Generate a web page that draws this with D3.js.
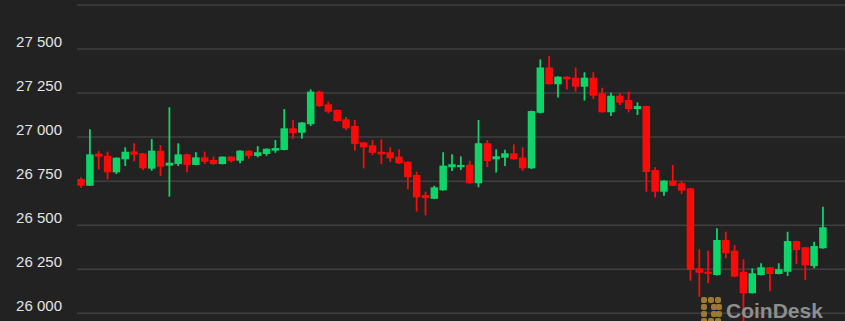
<!DOCTYPE html>
<html lang="en">
<head>
    <meta charset="UTF-8">
    <title>BTC candles</title>
    <style>
        body {
            margin: 0;
            padding: 0;
            background-color: #222222;
            overflow: hidden;
        }
        .tick-label {
            font-family: 'Liberation Sans', Arial, sans-serif;
            font-size: 15px;
            fill: #e4e4e4;
        }
        .grid {
            stroke: #3f3f3f;
            stroke-width: 1.5px;
        }
        .brand {
            font-family: 'Liberation Sans', Arial, sans-serif;
            font-weight: bold;
            font-size: 21px;
            fill: #8e8e8e;
        }
    </style>
</head>
<body>
    <script src="https://d3js.org/d3.v7.min.js"></script>
    <script>
        // OHLC per candle
        const opens = [
            26762, 26724, 26906, 26894, 26800, 26874, 26919, 26908, 26821, 26923,
            26838, 26847, 26902, 26842, 26885, 26870, 26847, 26889, 26866, 26923,
            26893, 26904, 26923, 26927, 27050, 27025, 27073, 27258, 27186, 27154,
            27101, 27063, 26970, 26953, 26917, 26914, 26889, 26860, 26785, 26671,
            26650, 26698, 26829, 26829, 26843, 26738, 26965, 26874, 26883, 26908,
            26884, 26823, 27138, 27395, 27300, 27343, 27337, 27286, 27337, 27249,
            27141, 27235, 27211, 27159, 27176, 26813, 26690, 26753, 26738, 26709,
            26255, 26236, 26217, 26416, 26355, 26236, 26114, 26217, 26261, 26223,
            26236, 26410, 26375, 26268, 26369
        ];
        const highs = [
            26772, 27044, 26921, 26917, 26885, 26942, 26965, 26910, 26989, 26955,
            27169, 26965, 26905, 26914, 26917, 26889, 26891, 26891, 26925, 26925,
            26949, 26936, 26983, 27159, 27097, 27085, 27271, 27263, 27201, 27156,
            27114, 27097, 26972, 26983, 26987, 26942, 26931, 26862, 26804, 26690,
            26724, 26914, 26902, 26891, 26866, 27097, 26983, 26931, 26928, 26959,
            26942, 27150, 27441, 27460, 27345, 27345, 27394, 27368, 27368, 27280,
            27252, 27249, 27258, 27197, 27178, 26829, 26755, 26842, 26753, 26711,
            26363, 26355, 26482, 26463, 26388, 26307, 26255, 26284, 26263, 26284,
            26463, 26412, 26377, 26406, 26605
        ];
        const lows = [
            26713, 26722, 26817, 26760, 26790, 26836, 26863, 26813, 26809, 26779,
            26662, 26836, 26800, 26840, 26847, 26843, 26845, 26857, 26851, 26877,
            26885, 26893, 26911, 26925, 26991, 26991, 27063, 27171, 27135, 27086,
            27040, 26923, 26823, 26898, 26847, 26860, 26847, 26704, 26577, 26556,
            26648, 26696, 26808, 26813, 26736, 26715, 26829, 26799, 26836, 26872,
            26809, 26819, 27134, 27298, 27225, 27270, 27258, 27207, 27216, 27139,
            27120, 27182, 27141, 27125, 26690, 26657, 26667, 26722, 26677, 26185,
            26094, 26170, 26215, 26312, 26205, 25955, 26112, 26215, 26127, 26221,
            26212, 26280, 26189, 26255, 26366
        ];
        const closes = [
            26724, 26902, 26889, 26800, 26883, 26917, 26900, 26823, 26923, 26832,
            26855, 26902, 26842, 26885, 26860, 26847, 26889, 26864, 26923, 26893,
            26914, 26934, 26938, 27050, 27022, 27083, 27258, 27176, 27144, 27091,
            27050, 26961, 26942, 26911, 26902, 26880, 26851, 26772, 26658, 26654,
            26715, 26838, 26846, 26842, 26738, 26965, 26864, 26891, 26908, 26874,
            26823, 27148, 27395, 27300, 27343, 27328, 27286, 27337, 27235, 27141,
            27235, 27195, 27159, 27176, 26802, 26690, 26753, 26724, 26696, 26246,
            26230, 26227, 26416, 26341, 26208, 26114, 26227, 26261, 26223, 26250,
            26410, 26359, 26272, 26382, 26488
        ];
        // gridlines; the top one has no visible label
        const gridTicks = [26000, 26250, 26500, 26750, 27000, 27250, 27500, 27750];
        const labelTicks = [26000, 26250, 26500, 26750, 27000, 27250, 27500];

        const width = 845;
        const height = 321;
        const up = "#0fd46a";
        const down = "#fb0a0a";

        const candles = opens.map((o, i) => ({
            i: i, open: o, high: highs[i], low: lows[i], close: closes[i]
        }));

        const svg = d3.select("body")
            .append("svg")
            .attr("width", width)
            .attr("height", height);

        svg.append("rect")
            .attr("width", width)
            .attr("height", height)
            .attr("fill", "#222222");

        const x = d3.scaleBand()
            .domain(candles.map(d => d.i))
            .range([76, 828])
            .padding(0.15);

        const y = d3.scaleLinear()
            .domain([26000, 27500])
            .range([313.3, 49]);

        const fmt = d3.formatLocale({ decimal: ".", thousands: " ", grouping: [3], currency: ["", ""] }).format(",");

        svg.selectAll(".grid")
            .data(gridTicks)
            .enter()
            .append("line")
            .attr("class", "grid")
            .attr("x1", 77)
            .attr("x2", width)
            .attr("y1", d => y(d))
            .attr("y2", d => y(d));

        svg.selectAll(".tick-label")
            .data(labelTicks)
            .enter()
            .append("text")
            .attr("class", "tick-label")
            .attr("text-anchor", "end")
            .attr("x", 62)
            .attr("y", d => y(d) - 2.5)
            .text(d => fmt(d));

        const g = svg.selectAll(".candle")
            .data(candles)
            .enter()
            .append("g")
            .attr("class", "candle");

        g.append("line")
            .attr("x1", d => x(d.i) + x.bandwidth() / 2)
            .attr("x2", d => x(d.i) + x.bandwidth() / 2)
            .attr("y1", d => y(d.high))
            .attr("y2", d => y(d.low))
            .attr("stroke", d => d.close >= d.open ? up : down)
            .attr("stroke-width", 1.8);

        g.append("rect")
            .attr("x", d => x(d.i))
            .attr("width", x.bandwidth())
            .attr("y", d => y(Math.max(d.open, d.close)))
            .attr("height", d => Math.max(2, Math.abs(y(d.open) - y(d.close))))
            .attr("fill", d => d.close >= d.open ? up : down);

        // watermark
        const logo = svg.append("g").attr("transform", "translate(701,297)");
        const dots = [[0,0],[7,0],[14,0],[0,7],[10,7],[15,7],[0,14],[10,14],[15,14],[0,21],[7,21],[14,21]];
        logo.selectAll("rect")
            .data(dots)
            .enter()
            .append("rect")
            .attr("x", d => d[0])
            .attr("y", d => d[1])
            .attr("width", 6)
            .attr("height", 6)
            .attr("rx", 2)
            .attr("fill", "#9c7a36");

        svg.append("text")
            .attr("class", "brand")
            .attr("x", 726)
            .attr("y", 318)
            .text("CoinDesk");
    </script>
</body>
</html>
